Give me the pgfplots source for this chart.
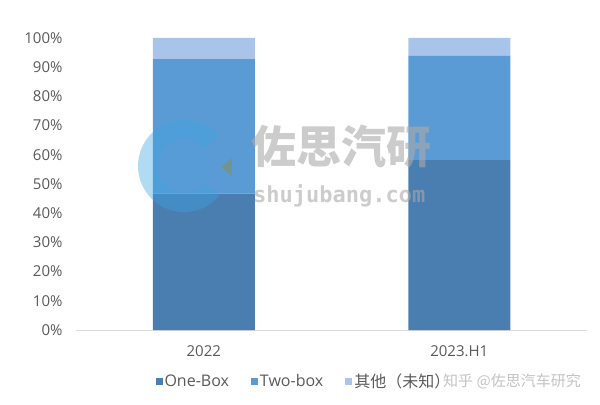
\documentclass[border=0pt]{standalone}
\usepackage{pgfplots}
\pgfplotsset{compat=1.18}
\usepackage{fontspec}
\setmainfont{Open Sans}
\newfontfamily\cjk{Noto Sans CJK SC}
\newfontfamily\wmono{DejaVu Sans Mono}
\definecolor{onebox}{RGB}{74,126,177}
\definecolor{twobox}{RGB}{91,155,213}
\definecolor{other}{RGB}{169,196,233}
\definecolor{txt}{RGB}{89,89,89}
\definecolor{axgray}{RGB}{217,217,217}
\definecolor{wm}{RGB}{170,170,170}
\definecolor{logoblue}{RGB}{60,165,225}
\begin{document}
\begin{tikzpicture}[x=1bp,y=1bp]
\path[use as bounding box] (0,0) rectangle (600,404);
\begin{axis}[
  at={(76bp,74bp)}, anchor=south west,
  scale only axis, width=511bp, height=292bp,
  ybar stacked, bar width=102bp,
  xmin=-0.5, xmax=1.5, ymin=0, ymax=100,
  xtick={0,1}, xticklabels={2022,2023.H1},
  ytick={0,10,...,100},
  yticklabel={\pgfmathprintnumber{\tick}\%},
  /pgf/number format/assume math mode=true,
  axis x line=bottom, axis y line=left,
  x axis line style={draw=axgray, line width=0.8bp, -},
  y axis line style={draw=none},
  major tick length=0,
  tick label style={font=\fontsize{15bp}{18bp}\selectfont, text=txt},
  yticklabel style={xshift=-10bp},
  xticklabel style={yshift=-12bp},
  legend columns=-1,
  legend style={at={(0.446,-0.175)}, anchor=center, draw=none, fill=none,
    font=\fontsize{16bp}{19bp}\selectfont, text=txt,
    /tikz/every even column/.append style={column sep=20bp}},
  legend image code/.code={\fill[#1, draw=none] (0bp,-3.5bp) rectangle (7bp,3.5bp);},
]
\addplot[fill=onebox, draw=none] coordinates {(0,46.7) (1,58.2)};
\addplot[fill=twobox, draw=none] coordinates {(0,46.1) (1,35.7)};
\addplot[fill=other, draw=none] coordinates {(0,7.2) (1,6.1)};
\legend{One-Box, Two-box, {\cjk 其他（未知）}}
\end{axis}
% watermark logo
\fill[logoblue, opacity=0.4] ([shift={(184,238)}]40:46) arc[start angle=40, end angle=320, radius=46]
  -- ([shift={(184,238)}]320:27) arc[start angle=320, end angle=40, radius=27] -- cycle;
\fill[logoblue, opacity=0.1] (184,238) circle (27);
\fill[olive!60!gray, opacity=0.45] (221,237) -- (232,246) -- (232,228) -- cycle;
\node[anchor=west, inner sep=0, text=wm, opacity=0.6, font=\cjk\bfseries\fontsize{45bp}{50bp}\selectfont] at (251,257) {佐思汽研};
\node[anchor=west, inner sep=0, text=wm, opacity=0.6, font=\wmono\bfseries\fontsize{22bp}{26bp}\selectfont] at (253,208) {shujubang.com};
\node[anchor=west, inner sep=0, text=wm, opacity=0.7, font=\cjk\fontsize{15bp}{18bp}\selectfont] at (443,23) {知乎 @佐思汽车研究};
\end{tikzpicture}
\end{document}
